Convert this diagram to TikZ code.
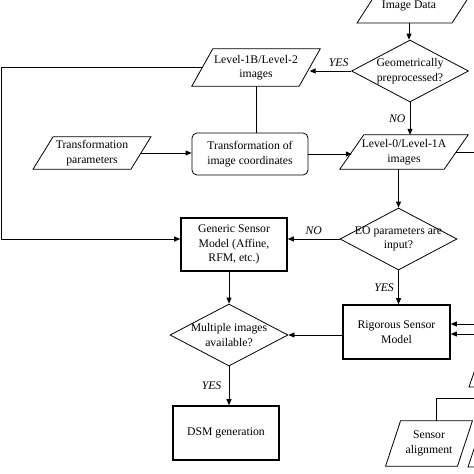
\documentclass[tikz,border=0pt]{standalone}
\usepackage{fontspec}
\setmainfont{Liberation Serif}
\usetikzlibrary{shapes.geometric,arrows.meta,calc}
\newcommand{\paragram}[2]{\draw[line width=0.8pt] ($(#1.south west)+(-#2,0)$) -- ($(#1.south east)+(-#2,0)$) -- ($(#1.north east)+(#2,0)$) -- ($(#1.north west)+(#2,0)$) -- cycle;}
\begin{document}
\begin{tikzpicture}[x=1pt,y=-1pt,
  font=\fontsize{11.7}{14.5}\selectfont,
  thinln/.style={line width=0.8pt},
  arr/.style={thinln,-{Triangle[length=6pt,width=5pt]}},
  ptext/.style={align=center,inner sep=0pt,minimum height=#1},
  dia/.style={diamond,draw,thinln,inner sep=0pt,minimum width=117pt,minimum height=62pt},
  tbox/.style={draw,line width=1.6pt,align=center,inner sep=0pt},
  lbl/.style={font=\fontsize{11.7}{14}\selectfont\itshape}
]
\useasboundingbox (0,0) rectangle (474,474);
\clip (0,0) rectangle (474,474);

% nodes
\node[ptext=34pt,minimum width=95pt] (img) at (409,6) {Image Data};
\draw[thinln] (357,23) -- (452,23) -- (476,-14) -- (381,-14) -- cycle;

\node[dia,label={[align=center]center:Geometrically\\preprocessed?}] (geo) at (410,71) {};

\node[ptext=37pt,minimum width=107pt] (l1b) at (256,67.5) {Level-1B/Level-2\\images};
\paragram{l1b}{10.5}

\node[draw,thinln,rounded corners=5pt,minimum width=116pt,minimum height=42pt,align=center,inner sep=0pt] (tr) at (250,154) {Transformation of\\image coordinates};

\node[ptext=32pt,minimum width=97.5pt] (tp) at (92,153) {Transformation\\parameters};
\paragram{tp}{10}

\node[ptext=34pt,minimum width=104pt] (l0) at (404,152) {Level-0/Level-1A\\images};
\paragram{l0}{12}

\node[dia,label={[align=center]center:EO parameters are\\input?}] (eo) at (398.5,239) {};

\node[tbox,minimum width=106pt,minimum height=53pt] (gen) at (234,244.5) {Generic Sensor\\Model (Affine,\\RFM, etc.)};

\node[tbox,minimum width=107pt,minimum height=54pt] (rig) at (396.5,332) {Rigorous Sensor\\Model};

\node[dia,minimum width=118pt,label={[align=center]center:Multiple images\\available?}] (mult) at (229,335) {};

\node[tbox,minimum width=106pt,minimum height=54pt] (dsm) at (226,433) {DSM generation};

\node[ptext=45pt,minimum width=71.5pt] (sa) at (429,443.5) {Sensor\\alignment};
\paragram{sa}{7.5}

% partial shapes cut by the right edge
\draw[thinln] (490,387) -- (469,387) -- (481,352);
\draw[thinln] (490,467) -- (468,467) -- (483,422);

% helper coordinates
\coordinate (E) at (490,0);
\coordinate (W) at (1,0);
\coordinate (in1) at (490,324);
\coordinate (in2) at (490,334);
\coordinate (sx) at (436,398);
\coordinate (rr) at (490,398);

% connectors
\draw[arr] (img.south) -- (img.south |- geo.north);
\draw[arr] (geo.west) -- (geo.west -| l1b.east) node[lbl,pos=0.3,above=1pt]{YES};
\draw[arr] (l1b.west) -- (l1b.west -| W) -- (eo.west -| W) -- (eo.west -| gen.west);
\draw[thinln] (l1b.south) -- (l1b.south |- tr.north);
\draw[arr] (tp.east) -- (tp.east -| tr.west);
\draw[arr] (tr.east) -- (tr.east -| l0.west);
\draw[arr] (geo.south) -- (geo.south |- l0.north) node[lbl,midway,left=1pt]{NO};
\draw[thinln] (l0.east) -- (l0.east -| E);
\draw[arr] (eo.north |- l0.south) -- (eo.north);
\draw[arr] (eo.west) -- (eo.west -| gen.east) node[lbl,midway,above=1pt]{NO};
\draw[arr] (eo.south) -- (eo.south |- rig.north) node[lbl,midway,left=1pt]{YES};
\draw[arr] (mult.north |- gen.south) -- (mult.north);
\draw[arr] (rig.west |- mult.east) -- (mult.east);
\draw[arr] (in1) -- (in1 -| rig.east);
\draw[arr] (in2) -- (in2 -| rig.east);
\draw[arr] (mult.south) -- (mult.south |- dsm.north) node[lbl,midway,left=4pt]{YES};
\draw[thinln] (sa.north -| sx) -- (sx) -- (rr);
\end{tikzpicture}
\end{document}
